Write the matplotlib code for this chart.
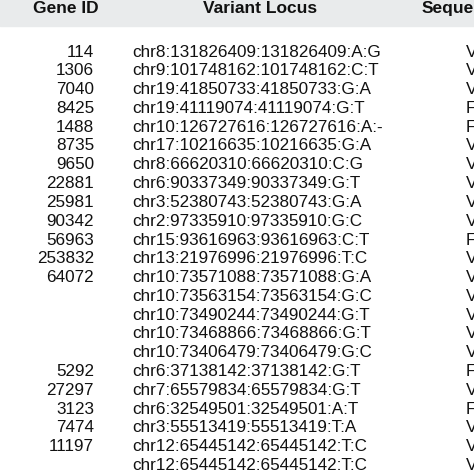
import matplotlib
matplotlib.use("Agg")
import matplotlib.pyplot as plt
from matplotlib.patches import Rectangle

plt.rcParams['font.family'] = ['Liberation Sans', 'DejaVu Sans']

headers = ["Gene ID", "Variant Locus", "Sequence"]
gene_ids = ["114", "1306", "7040", "8425", "1488", "8735", "9650", "22881", "25981",
            "90342", "56963", "253832", "64072", "", "", "", "", "5292", "27297",
            "3123", "7474", "11197", ""]
loci = ["chr8:131826409:131826409:A:G", "chr9:101748162:101748162:C:T",
        "chr19:41850733:41850733:G:A", "chr19:41119074:41119074:G:T",
        "chr10:126727616:126727616:A:-", "chr17:10216635:10216635:G:A",
        "chr8:66620310:66620310:C:G", "chr6:90337349:90337349:G:T",
        "chr3:52380743:52380743:G:A", "chr2:97335910:97335910:G:C",
        "chr15:93616963:93616963:C:T", "chr13:21976996:21976996:T:C",
        "chr10:73571088:73571088:G:A", "chr10:73563154:73563154:G:C",
        "chr10:73490244:73490244:G:T", "chr10:73468866:73468866:G:T",
        "chr10:73406479:73406479:G:C", "chr6:37138142:37138142:G:T",
        "chr7:65579834:65579834:G:T", "chr6:32549501:32549501:A:T",
        "chr3:55513419:55513419:T:A", "chr12:65445142:65445142:T:C",
        "chr12:65445142:65445142:T:C"]
seq_marks = ["V", "V", "V", "F", "F", "V", "V", "V", "V", "V", "F", "V", "V",
             "V", "V", "V", "V", "F", "V", "F", "V", "V", "V"]

fig = plt.figure(figsize=(4.74, 4.74), dpi=100)
ax = fig.add_axes([0, 0, 1, 1])
ax.set_xlim(0, 474)
ax.set_ylim(474, 0)
ax.axis("off")

# grey header band
ax.add_patch(Rectangle((0, 0), 474, 26, color="#e9ebec", zorder=0))
hkw = dict(va="center", fontsize=12.5, fontweight="bold", color="#111111")
ax.text(66, 8, headers[0], ha="center", **hkw)
ax.text(260, 8, headers[1], ha="center", **hkw)
ax.text(422, 8, headers[2], ha="left", **hkw)

y0, dy = 52, 18.8
for i, (g, loc, s) in enumerate(zip(gene_ids, loci, seq_marks)):
    y = y0 + i * dy
    ax.text(94, y, g, ha="right", va="center", fontsize=12.3, color="#111111")
    ax.text(132, y, loc, ha="left", va="center", fontsize=12.3, color="#111111")
    ax.text(466, y, s, ha="left", va="center", fontsize=12.3, color="#111111")

fig.savefig("out.png", dpi=100)
